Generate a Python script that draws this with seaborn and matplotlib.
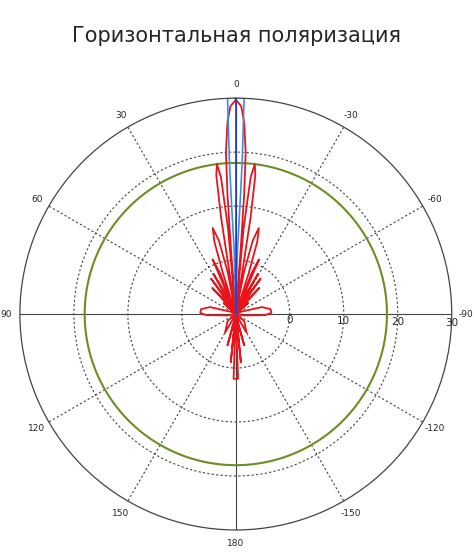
import numpy as np
import matplotlib.pyplot as plt
import seaborn as sns

sns.set_theme(style="white")
plt.rcParams['font.family'] = ['DejaVu Sans']

# red pattern, half (0..180 deg, counterclockwise), dB, mirrored for the other side
red_ang = [0, 1.5, 2.5, 3.5, 4.0, 4.3, 4.6, 5.2, 6.2, 7.2, 8.0, 8.7, 9.3,
           11, 13, 15, 16.5, 17.5, 18.5, 21, 23, 25,
           26, 29, 31, 32, 35, 37, 38, 42, 45, 48, 55, 65, 75, 82, 88, 92, 100, 110, 130,
           150, 160, 165, 170, 174, 176, 178, 180]
red_db = [29.7, 28.5, 25.5, 20, 12, 2, -10, 6, 15.5, 18, 16, 8, -10,
          -2, 4, 6.5, 4, -2, -10, -2, 1, -10,
          -6, -1.5, -10, -6, -2, -10, -7, -3.5, -10, -7, -10, -9, -5, -3.5, -3.4, -4.5, -8.5, -10, -8,
          -6, -10, -4, -9, -1, -10, 2, 2]
blue_ang = [0, 2.2, 2.4, 2.2, 1.5, 0.6, 0]
blue_db = [30, 30, 18, 10, 2, -8, -10]
green_db = 18
rmin, rmax = -10, 30
ring_ticks = [0, 10, 20]
angle_ticks = [0, 30, 60, 90, 120, 150, 180, -150, -120, -90, -60, -30]

def rad(a):
    return np.radians(np.mod(a, 360))

fig = plt.figure(figsize=(4.74, 5.53), dpi=100)
fig.patch.set_facecolor('white')
ax = fig.add_axes([0.042, 0.0416, 0.911, 0.781], projection='polar')
ax.set_theta_zero_location('N')
ax.set_theta_direction(1)

ra = np.array(red_ang)
rd = np.array(red_db)
full_a = np.concatenate([ra, 360 - ra[::-1]])
full_d = np.concatenate([rd, rd[::-1]])
ba = np.array(blue_ang)
bd = np.array(blue_db)
blue_a = np.concatenate([-ba[::-1], ba])
blue_d = np.concatenate([bd[::-1], bd])

ax.grid(False)
th = np.linspace(0, 2 * np.pi, 400)
for r in ring_ticks:
    ax.plot(th, np.full_like(th, r), color='#444444', ls=(0, (2, 2)), lw=0.8)
for a in [30, 60, 120, 150, -30, -60, -120, -150]:
    ax.plot([rad(a)] * 2, [rmin, rmax], color='#444444', ls=(0, (2, 2)), lw=0.8)
for a in [0, 90, 180, 270]:
    ax.plot([rad(a)] * 2, [rmin, rmax], color='#444444', lw=0.8)
ax.plot(th, np.full_like(th, green_db), color='#6b8e23', lw=1.5)
ax.plot(rad(full_a), full_d, color='#e8141b', lw=1.3)
ax.plot(np.radians(blue_a), blue_d, color='#3c8ce6', lw=1.2)
ax.plot([0, 0], [rmin, rmax], color='#1a3cd0', lw=1.2)

ax.set_thetalim(0, 2 * np.pi)
ax.set_ylim(rmin, rmax)
ax.set_xticks(rad(np.array(angle_ticks)))
ax.set_xticklabels([str(a) for a in angle_ticks], fontsize=6.5)
ax.tick_params(axis='x', pad=-3)
ax.set_yticks([])
for r in ring_ticks + [30]:
    ax.text(rad(-91), r, str(r), fontsize=7.5, ha='center', va='top')
ax.spines['polar'].set_color('#444444')
ax.spines['polar'].set_linewidth(0.9)

fig.text(0.5, 0.935, 'Горизонтальная поляризация', ha='center', va='center', fontsize=15)
fig.savefig('out.png', dpi=100)
